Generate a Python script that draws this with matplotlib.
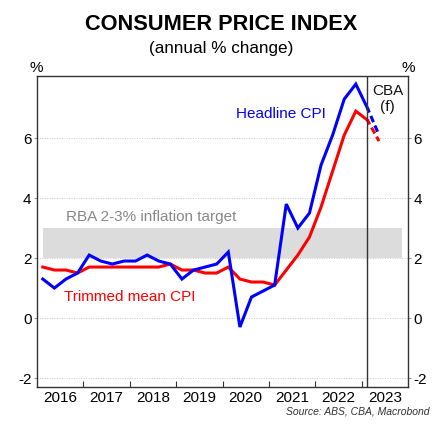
import numpy as np
import matplotlib.pyplot as plt
from matplotlib.ticker import FixedLocator, NullFormatter, FixedFormatter

plt.rcParams["font.family"] = ["Liberation Sans", "DejaVu Sans"]
plt.rcParams["axes.unicode_minus"] = False

# quarterly annual % change, 2016Q1 .. 2023Q1
years = list(range(2016, 2024))
headline = [1.3, 1.0, 1.3, 1.5,
            2.1, 1.9, 1.8, 1.9,
            1.9, 2.1, 1.9, 1.8,
            1.3, 1.6, 1.7, 1.8,
            2.2, -0.3, 0.7, 0.9,
            1.1, 3.8, 3.0, 3.5,
            5.1, 6.1, 7.3, 7.8,
            7.0]
trimmed = [1.7, 1.6, 1.6, 1.5,
           1.7, 1.7, 1.7, 1.7,
           1.7, 1.7, 1.7, 1.8,
           1.6, 1.6, 1.5, 1.5,
           1.7, 1.3, 1.2, 1.2,
           1.1, 1.6, 2.1, 2.7,
           3.7, 4.9, 6.1, 6.9,
           6.6]
# CBA forecast, 2023Q1 -> 2023Q2
headline_fc = [7.0, 6.1]
trimmed_fc = [6.6, 5.9]
target_band = (2, 3)

# mid-quarter positions
x = 2016 + 0.125 + 0.25 * np.arange(len(headline))
x_fc = x[-1] + 0.25 * np.arange(len(headline_fc))

fig = plt.figure(figsize=(4.42, 4.29), dpi=100)
ax = fig.add_axes([37 / 442, 42 / 429, 371 / 442, 311 / 429])

ax.fill_between([x[0], 2023.875], target_band[0], target_band[1],
                color="#dcdcdc", lw=0, zorder=1)
for y in [-2, 0, 2, 4, 6]:
    ax.axhline(y, color="#c8c8c8", lw=0.7, ls=(0, (1, 1.5)), zorder=0)

ax.plot(x, trimmed, color="#ff0000", lw=2.2, zorder=3, solid_joinstyle="miter")
ax.plot(x, headline, color="#0000ff", lw=2.2, zorder=4, solid_joinstyle="miter")
ax.plot(x_fc, trimmed_fc, color="#ff0000", lw=2.2, ls=(0.6, (2.2, 1.2)), zorder=3)
ax.plot(x_fc, headline_fc, color="#0000ff", lw=2.2, ls=(0.6, (2.2, 1.2)), zorder=4)

ax.axvline(x[-1], color="#333333", lw=1, zorder=5)

ax.set_xlim(2016, 2024)
ax.set_ylim(-2.3, 8.07)

ax.xaxis.set_major_locator(FixedLocator(years[1:]))
ax.xaxis.set_major_formatter(NullFormatter())
ax.xaxis.set_minor_locator(FixedLocator([y + 0.5 for y in years]))
ax.xaxis.set_minor_formatter(FixedFormatter([str(y) for y in years]))
ax.tick_params(axis="x", which="major", direction="in", length=4, width=0.8, color="#333333")
ax.tick_params(axis="x", which="minor", length=0, labelsize=11, pad=3)

ax.set_yticks([-2, 0, 2, 4, 6])
ax.tick_params(axis="y", direction="out", length=2, width=0.8, color="#999999",
               labelsize=11, left=True, right=True, labelleft=True, labelright=True, pad=2)

for s in ax.spines.values():
    s.set_color("#333333")
    s.set_linewidth(1)

ax.text(2020.29, 6.8, "Headline CPI", color="#0000ff", fontsize=11, va="center")
ax.text(2016.58, 0.7, "Trimmed mean CPI", color="#ff0000", fontsize=11, va="center")
ax.text(2016.63, 3.37, "RBA 2-3% inflation target", color="#888888", fontsize=11, va="center")
ax.text(2023.56, 7.3, "CBA\n(f)", color="#111111", fontsize=11, ha="center", va="center",
        linespacing=1.25)

fig.text(221 / 442, 1 - 24 / 429, "CONSUMER PRICE INDEX", fontsize=15.7, fontweight="bold",
         ha="center", va="center")
fig.text(221 / 442, 1 - 48 / 429, "(annual % change)", fontsize=12.3, ha="center", va="center")
fig.text(36 / 442, 1 - 68 / 429, "%", fontsize=11, ha="center", va="center")
fig.text(408 / 442, 1 - 68 / 429, "%", fontsize=11, ha="center", va="center")
fig.text(430 / 442, 1 - 411 / 429, "Source: ABS, CBA, Macrobond", fontsize=7.5,
         style="italic", color="#333333", ha="right", va="center")

fig.savefig("out.png", dpi=100)
